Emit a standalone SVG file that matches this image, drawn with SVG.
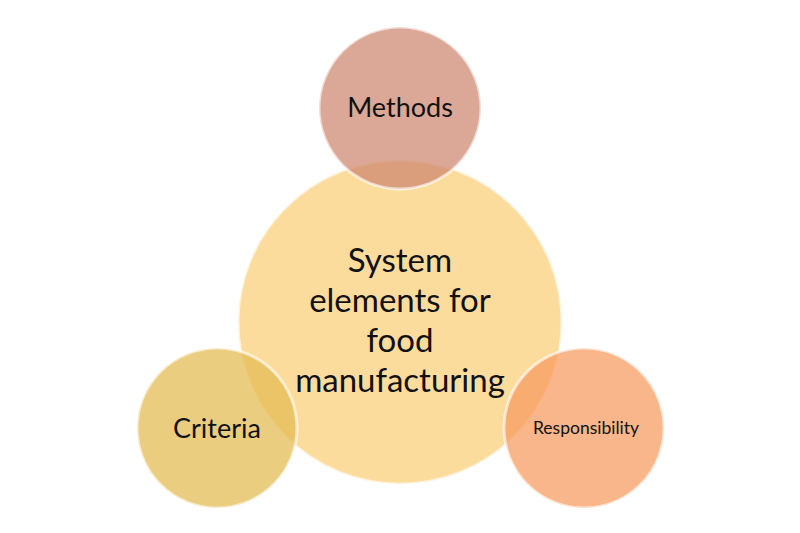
<svg xmlns="http://www.w3.org/2000/svg" width="800" height="533" viewBox="0 0 800 533">
<style>
text{font-family:Lato,"Open Sans",sans-serif;fill:#111;text-anchor:middle}
circle{stroke:#fff;stroke-width:3;stroke-opacity:0.6}
</style>
<rect width="800" height="533" fill="#fff"/>
<g id="center"><circle cx="400" cy="322" r="162" fill="#FBD68C" fill-opacity="0.85"/>
<text font-size="33"><tspan x="400" y="272">System</tspan><tspan x="400" y="312">elements for</tspan><tspan x="400" y="352">food</tspan><tspan x="400" y="392">manufacturing</tspan></text></g>
<g id="methods"><circle cx="400" cy="108" r="81" fill="#CD8670" fill-opacity="0.72"/>
<text x="400" y="117" font-size="27">Methods</text></g>
<g id="criteria"><circle cx="217" cy="428" r="80" fill="#E4BC55" fill-opacity="0.75"/>
<text x="217" y="438" font-size="27">Criteria</text></g>
<g id="responsibility"><circle cx="584" cy="428" r="80" fill="#F79A5E" fill-opacity="0.72"/>
<text x="586" y="434" font-size="17.5">Responsibility</text></g>
<g id="connectors"/>
</svg>
